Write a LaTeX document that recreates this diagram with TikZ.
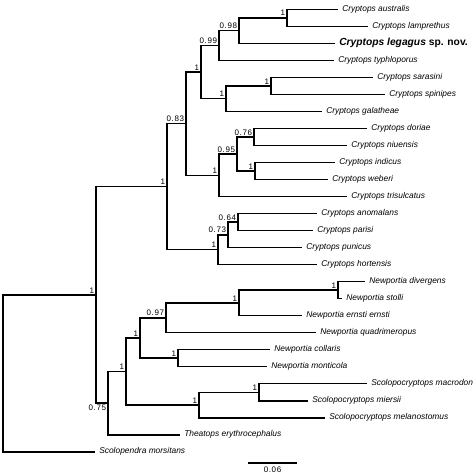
\documentclass[tikz,border=0pt]{standalone}
\usepackage{fontspec}
\setmainfont{Liberation Sans}
\begin{document}
\begin{tikzpicture}[x=0.75pt, y=-0.75pt,
  branch/.style={line width=1.1pt},
  taxon/.style={anchor=west, inner sep=3pt, font=\fontsize{6.3}{7}\selectfont\itshape},
  newsp/.style={anchor=west, inner sep=3pt, font=\fontsize{7.7}{9}\selectfont\bfseries},
  support/.style={inner sep=1.2pt, font=\fontsize{6}{7}\selectfont\addfontfeature{LetterSpace=8}}]

\useasboundingbox (0,0) rectangle (474,476);

\node[taxon] (aus) at (338,9.3) {Cryptops australis};
\node[taxon] (lam) at (368,26.3) {Cryptops lamprethus};
\node[newsp] (leg) at (335,43.3) {\itshape Cryptops legagus\upshape\ sp. nov.};
\node[taxon] (typ) at (334,60.4) {Cryptops typhloporus};
\node[taxon] (sar) at (373,77.4) {Cryptops sarasini};
\node[taxon] (spi) at (385,94.4) {Cryptops spinipes};
\node[taxon] (gal) at (322,111.4) {Cryptops galatheae};
\node[taxon] (dor) at (367,128.4) {Cryptops doriae};
\node[taxon] (niu) at (347,145.5) {Cryptops niuensis};
\node[taxon] (ind) at (335,162.5) {Cryptops indicus};
\node[taxon] (web) at (328,179.5) {Cryptops weberi};
\node[taxon] (tri) at (347,196.5) {Cryptops trisulcatus};
\node[taxon] (ano) at (317,213.5) {Cryptops anomalans};
\node[taxon] (par) at (313,230.6) {Cryptops parisi};
\node[taxon] (pun) at (302,247.6) {Cryptops punicus};
\node[taxon] (hor) at (317,264.6) {Cryptops hortensis};
\node[taxon] (div) at (365,281.6) {Newportia divergens};
\node[taxon] (sto) at (342,298.6) {Newportia stolli};
\node[taxon] (ern) at (302,315.7) {Newportia ernsti ernsti};
\node[taxon] (qua) at (316,332.7) {Newportia quadrimeropus};
\node[taxon] (col) at (270,349.7) {Newportia collaris};
\node[taxon] (mon) at (267,366.7) {Newportia monticola};
\node[taxon] (mac) at (367,383.7) {Scolopocryptops macrodon};
\node[taxon] (mie) at (308,400.8) {Scolopocryptops miersii};
\node[taxon] (mel) at (325,417.8) {Scolopocryptops melanostomus};
\node[taxon] (the) at (180,434.8) {Theatops erythrocephalus};
\node[taxon] (sco) at (95,451.8) {Scolopendra morsitans};

\coordinate (c1) at (287,17.8);   \node[support, above left] (s1) at (c1) {1};
\coordinate (c2) at (239,30.55);  \node[support, above left] (s2) at (c2) {0.98};
\coordinate (c3) at (219,45.5);   \node[support, above left] (s3) at (c3) {0.99};
\coordinate (c4) at (271,85.9);   \node[support, above left] (s4) at (c4) {1};
\coordinate (c5) at (226,98.65);  \node[support, above left] (s5) at (c5) {1};
\coordinate (c6) at (201,72.1);   \node[support, above left] (s6) at (c6) {1};
\coordinate (c7) at (254,136.95); \node[support, above left] (s7) at (c7) {0.76};
\coordinate (c8) at (255,171);    \node[support, above left] (s8) at (c8) {1};
\coordinate (c9) at (237,154);    \node[support, above left] (s9) at (c9) {0.95};
\coordinate (c10) at (219,175.25); \node[support, above left] (s10) at (c10) {1};
\coordinate (c11) at (186,123.7); \node[support, above left] (s11) at (c11) {0.83};
\coordinate (c12) at (238,222.05); \node[support, above left] (s12) at (c12) {0.64};
\coordinate (c13) at (228,234.8); \node[support, above left] (s13) at (c13) {0.73};
\coordinate (c14) at (218,249.7); \node[support, above left] (s14) at (c14) {1};
\coordinate (c15) at (167,186.7); \node[support, above left] (s15) at (c15) {1};
\coordinate (c16) at (338,290.1); \node[support, above left] (s16) at (c16) {1};
\coordinate (c17) at (239,302.9); \node[support, above left] (s17) at (c17) {1};
\coordinate (c18) at (166,317.8); \node[support, above left] (s18) at (c18) {0.97};
\coordinate (c19) at (178,358.2); \node[support, above left] (s19) at (c19) {1};
\coordinate (c20) at (140,338);   \node[support, above left] (s20) at (c20) {1};
\coordinate (c21) at (259,392.25); \node[support, above left] (s21) at (c21) {1};
\coordinate (c22) at (199,405);   \node[support, above left] (s22) at (c22) {1};
\coordinate (c23) at (126,371.5); \node[support, above left] (s23) at (c23) {1};
\coordinate (c24) at (108,403.15); \node[support, below left] (s24) at (c24) {0.75};
\coordinate (c25) at (96,294.9);  \node[support, above left] (s25) at (c25) {1};
\coordinate (root) at (3,373.35);

\draw[branch] (c1) |- (aus) (c1) |- (lam);
\draw[branch] (c2) |- (c1) (c2) |- (leg);
\draw[branch] (c3) |- (c2) (c3) |- (typ);
\draw[branch] (c4) |- (sar) (c4) |- (spi);
\draw[branch] (c5) |- (c4) (c5) |- (gal);
\draw[branch] (c6) |- (c3) (c6) |- (c5);
\draw[branch] (c7) |- (dor) (c7) |- (niu);
\draw[branch] (c8) |- (ind) (c8) |- (web);
\draw[branch] (c9) |- (c7) (c9) |- (c8);
\draw[branch] (c10) |- (c9) (c10) |- (tri);
\draw[branch] (c11) |- (c6) (c11) |- (c10);
\draw[branch] (c12) |- (ano) (c12) |- (par);
\draw[branch] (c13) |- (c12) (c13) |- (pun);
\draw[branch] (c14) |- (c13) (c14) |- (hor);
\draw[branch] (c15) |- (c11) (c15) |- (c14);
\draw[branch] (c16) |- (div) (c16) |- (sto);
\draw[branch] (c17) |- (c16) (c17) |- (ern);
\draw[branch] (c18) |- (c17) (c18) |- (qua);
\draw[branch] (c19) |- (col) (c19) |- (mon);
\draw[branch] (c20) |- (c18) (c20) |- (c19);
\draw[branch] (c21) |- (mac) (c21) |- (mie);
\draw[branch] (c22) |- (c21) (c22) |- (mel);
\draw[branch] (c23) |- (c20) (c23) |- (c22);
\draw[branch] (c24) |- (c23) (c24) |- (the);
\draw[branch] (c25) |- (c15) (c25) |- (c24);
\draw[branch] (root) |- (c25) (root) |- (sco);

\coordinate (bar1) at (248,463); \coordinate (bar2) at (297,463);
\draw[branch] (bar1) -- (bar2) node[support, midway, below=1pt] (barlabel) {0.06};
\end{tikzpicture}
\end{document}
